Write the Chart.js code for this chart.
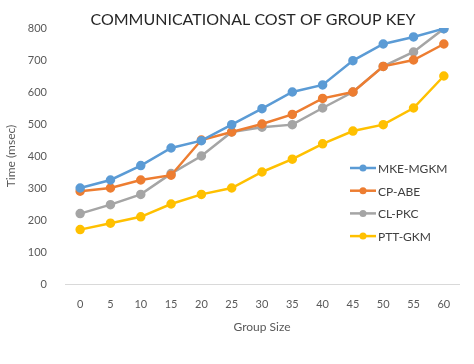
<!DOCTYPE html>
<html>
<head>
<meta charset="utf-8">
<script src="https://cdn.jsdelivr.net/npm/chart.js@4/dist/chart.umd.min.js"></script>
<style>
  html, body { margin: 0; padding: 0; background: #fff; }
  #wrap { width: 474px; height: 364px; }
</style>
</head>
<body>
<div id="wrap"><canvas id="chart" width="474" height="364"></canvas></div>
<script>
// données
const groupSizes = ['0', '5', '10', '15', '20', '25', '30', '35', '40', '45', '50', '55', '60'];
const mkeMgkm = [300, 325, 370, 425, 448, 498, 548, 600, 622, 698, 750, 772, 798];
const cpAbe = [290, 300, 325, 340, 450, 475, 500, 530, 580, 600, 680, 700, 750];
const clPkc = [220, 248, 280, 345, 400, 475, 490, 498, 550, 600, 680, 725, 798];
const pttGkm = [170, 190, 210, 250, 280, 300, 350, 390, 438, 478, 498, 550, 650];

const FONT = 'Lato, "Open Sans", sans-serif';

function serie(label, data, color) {
  return {
    label: label,
    data: data,
    borderColor: color,
    backgroundColor: color,
    borderWidth: 2.5,
    pointRadius: 3.5,
    pointHoverRadius: 3.5,
    tension: 0,
  };
}

// titre + légende dessinés à la main (la légende est dans la zone du graphique)
const decorPlugin = {
  id: 'decor',
  afterDraw(chart) {
    const ctx = chart.ctx;
    ctx.save();
    ctx.fillStyle = '#262626';
    ctx.font = '16px ' + FONT;
    ctx.textAlign = 'center';
    ctx.textBaseline = 'middle';
    ctx.fillText('COMMUNICATIONAL COST OF GROUP KEY', 253, 20);

    ctx.font = '12px ' + FONT;
    ctx.textAlign = 'left';
    chart.data.datasets.forEach((ds, i) => {
      const y = 168 + i * 22.7;
      ctx.strokeStyle = ds.borderColor;
      ctx.lineWidth = 2.5;
      ctx.beginPath();
      ctx.moveTo(350, y);
      ctx.lineTo(376, y);
      ctx.stroke();
      ctx.fillStyle = ds.borderColor;
      ctx.beginPath();
      ctx.arc(363, y, 3.5, 0, Math.PI * 2);
      ctx.fill();
      ctx.fillStyle = '#404040';
      ctx.fillText(ds.label, 378, y + 1);
    });
    ctx.restore();
  },
};

new Chart(document.getElementById('chart'), {
  type: 'line',
  data: {
    labels: groupSizes,
    datasets: [
      serie('MKE-MGKM', mkeMgkm, '#5B9BD5'),
      serie('CP-ABE', cpAbe, '#ED7D31'),
      serie('CL-PKC', clPkc, '#A5A5A5'),
      serie('PTT-GKM', pttGkm, '#FFC000'),
    ],
  },
  options: {
    responsive: false,
    animation: false,
    layout: { padding: { top: 28, right: 15, left: 0, bottom: 26 } },
    plugins: {
      legend: { display: false },
      title: { display: false },
      tooltip: { enabled: false },
    },
    scales: {
      x: {
        offset: true,
        grid: { display: false },
        border: { display: true, color: '#d9d9d9', width: 1 },
        ticks: { color: '#595959', font: { size: 11, family: FONT }, padding: 6 },
        title: {
          display: true,
          text: 'Group Size',
          color: '#595959',
          font: { size: 12, family: FONT },
          padding: { top: 12 },
        },
        afterFit(scale) { scale.height = 54; },
      },
      y: {
        min: 0,
        max: 800,
        ticks: { stepSize: 100, color: '#595959', font: { size: 11, family: FONT }, padding: 10 },
        grid: { display: false },
        border: { display: false },
        title: {
          display: true,
          text: 'Time (msec)',
          color: '#595959',
          font: { size: 12, family: FONT },
        },
        afterFit(scale) { scale.width = 65; },
      },
    },
  },
  plugins: [decorPlugin],
});
</script>
</body>
</html>
